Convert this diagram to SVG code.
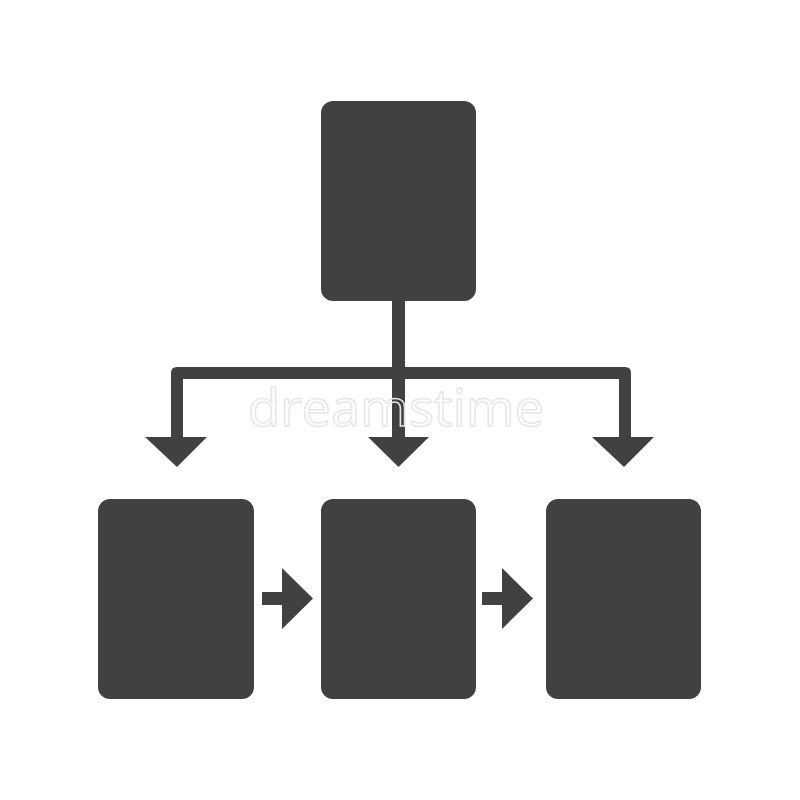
<svg xmlns="http://www.w3.org/2000/svg" width="800" height="800" viewBox="0 0 800 800">
<style>
.box{fill:#414141}
.con{fill:#414141}
.wm{font-family:"Open Sans","Liberation Sans",sans-serif;font-size:52px;fill:none;stroke:#e6e6e6;stroke-width:1.5}
</style>
<rect width="800" height="800" fill="#ffffff"/>
<g id="connectors">
<rect class="con" x="392" y="300" width="13" height="140"/>
<path class="con" d="M183 379 V437 H207 L177 467 L145 437 H171 V373 Q171 367 177 367 H625 Q631 367 631 373 V437 H654 L624 467 L592 437 H619 V379 Z"/>
<path class="con" d="M368 437 H429 L398.5 467 Z"/>
<path class="con" d="M262 592 H282 V568 L313 598.5 L282 629 V605 H262 Z"/>
<path class="con" d="M482 592 H502 V568 L533 598.5 L502 629 V605 H482 Z"/>
</g>
<text class="wm" x="248" y="426" textLength="296" lengthAdjust="spacingAndGlyphs">dreamstime</text>
<g id="top"><rect class="box" x="321" y="101" width="155" height="200" rx="12"/></g>
<g id="left"><rect class="box" x="98" y="499" width="156" height="200" rx="12"/></g>
<g id="middle"><rect class="box" x="321" y="499" width="155" height="200" rx="12"/></g>
<g id="right"><rect class="box" x="546" y="499" width="155" height="200" rx="12"/></g>
</svg>
